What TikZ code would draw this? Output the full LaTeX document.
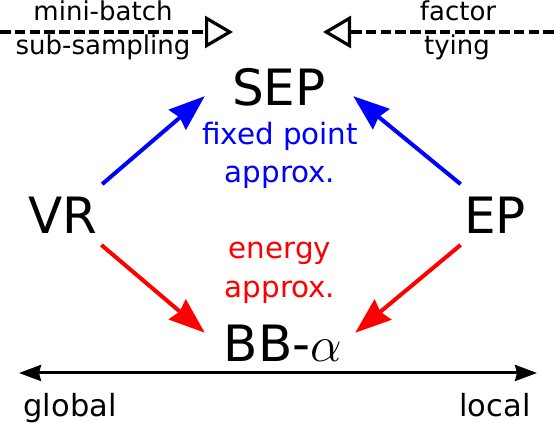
\RequirePackage{fix-cm}
\documentclass[tikz,border=0pt]{standalone}
\usepackage{amsmath}
\usepackage{fontspec}
\setmainfont{DejaVu Sans}
\usetikzlibrary{arrows.meta}

\begin{document}
\begin{tikzpicture}[
		big/.style={inner sep=0, anchor=base, font=\fontsize{35.6}{40}\selectfont},
		note/.style={inner sep=0, align=center, font=\fontsize{20.9}{27.5}\selectfont},
		side/.style={inner sep=0, anchor=base, font=\fontsize{18.5}{22}\selectfont},
		ends/.style={inner sep=0, anchor=base, font=\fontsize{21.7}{26}\selectfont},
		fixarrow/.style={blue, line width=0.1cm, -{Stealth[length=0.9cm, width=0.65cm, inset=0.08cm]}},
		energyarrow/.style={red, line width=0.1cm, -{Stealth[length=0.9cm, width=0.65cm, inset=0.08cm]}},
		trick/.style={line width=0.08cm, dash pattern=on 0.265cm off 0.105cm, -{Triangle[open, length=0.7cm, width=0.8cm]}},
		scalearrow/.style={line width=0.075cm, {Stealth[length=0.55cm, width=0.4cm, inset=0.05cm]}-{Stealth[length=0.55cm, width=0.4cm, inset=0.05cm]}}
	]
		\useasboundingbox (0, 0) rectangle (13.85, 10.575);

		\node[big] (SEP) at (6.975, 7.925) {SEP};
		\node[big] (VR) at (1.575, 4.725) {VR};
		\node[big] (EP) at (12.375, 4.725) {EP};
		\node[big] (BBa) at (7.075, 1.53) {BB-$\alpha$};

		\node[note, blue] (fixed) at (7.0, 6.69) {fixed point\\approx.};
		\node[note, red] (energy) at (7.0, 3.76) {energy\\approx.};

		\draw[fixarrow] ([shift={(0.11, 0.79)}]VR.east) -- ([shift={(-0.68, -0.21)}]SEP.west);
		\draw[fixarrow] ([shift={(-0.08, 0.79)}]EP.west) -- ([shift={(0.68, -0.21)}]SEP.east);
		\draw[energyarrow] ([shift={(0.09, -0.73)}]VR.east) -- ([shift={(-0.47, 0.27)}]BBa.west);
		\draw[energyarrow] ([shift={(-0.08, -0.73)}]EP.west) -- ([shift={(0.32, 0.27)}]BBa.east);

		\coordinate (batchstart) at (0, 9.775);
		\coordinate (batchend) at (5.825, 9.775);
		\coordinate (tiestart) at (13.85, 9.775);
		\coordinate (tieend) at (8.075, 9.775);
		\draw[trick] (batchstart) -- (batchend);
		\draw[trick] (tiestart) -- (tieend);
		\node[side] (minibatch) at (2.575, 10.05) {mini-batch};
		\node[side] (subsampling) at (2.575, 9.2) {sub-sampling};
		\node[side] (factor) at (11.45, 10.05) {factor};
		\node[side] (tying) at (11.425, 9.2) {tying};

		\coordinate (globend) at (0.475, 1.25);
		\coordinate (locend) at (13.425, 1.25);
		\draw[scalearrow] (globend) -- (locend);
		\node[ends] (global) at (1.75, 0.15) {global};
		\node[ends] (local) at (12.375, 0.15) {local};
	\end{tikzpicture}
\end{document}
